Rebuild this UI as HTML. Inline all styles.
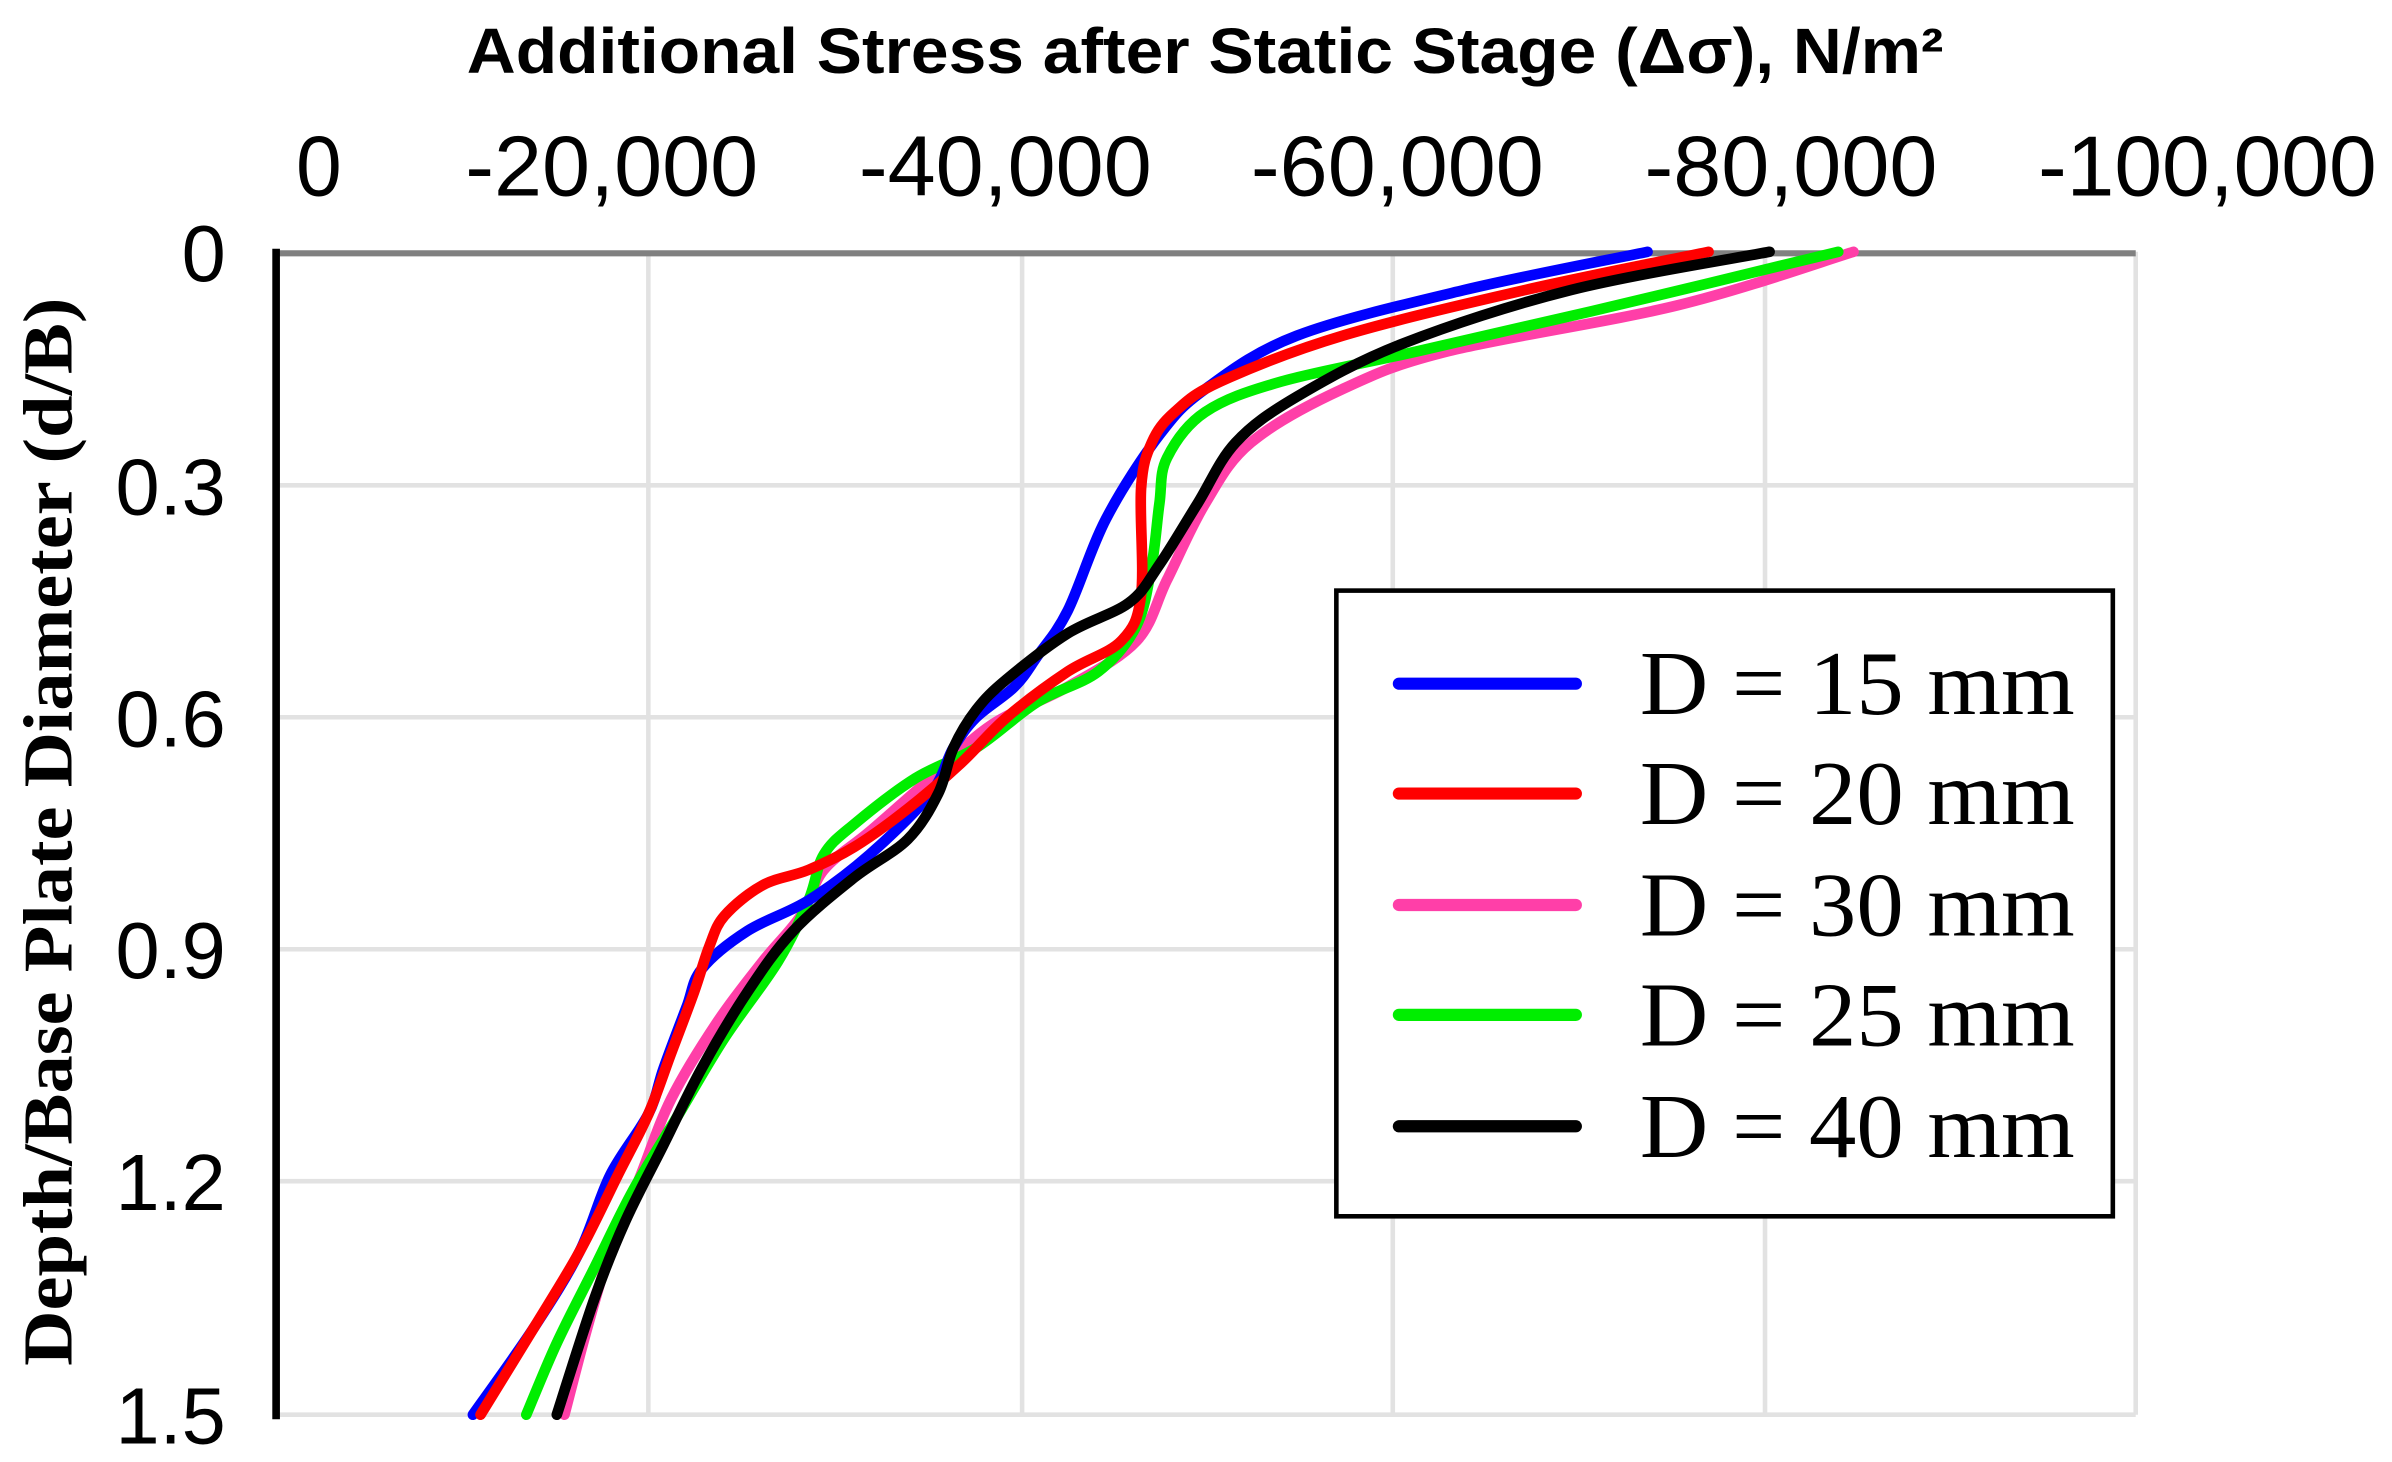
<!DOCTYPE html>
<html><head><meta charset="utf-8"><style>
html,body{margin:0;padding:0;background:#fff;}
svg{display:block;}
</style></head><body>
<svg id="s" width="2392" height="1462" viewBox="0 0 1568 958" preserveAspectRatio="none" xmlns="http://www.w3.org/2000/svg">
<rect width="1568" height="958" fill="#fff"/>
<g stroke="#e2e2e2" stroke-width="3">
<line x1="425" y1="165" x2="425" y2="927"/><line x1="670" y1="165" x2="670" y2="927"/>
<line x1="913" y1="165" x2="913" y2="927"/><line x1="1157" y1="165" x2="1157" y2="927"/>
<line x1="1400" y1="165" x2="1400" y2="927"/>
<line x1="180" y1="318" x2="1400" y2="318"/><line x1="180" y1="470" x2="1400" y2="470"/>
<line x1="180" y1="622" x2="1400" y2="622"/><line x1="180" y1="774" x2="1400" y2="774"/>
<line x1="180" y1="927" x2="1400" y2="927"/>
</g>
<line x1="180" y1="166" x2="1400" y2="166" stroke="#808080" stroke-width="4"/>
<line x1="181" y1="163" x2="181" y2="930" stroke="#000" stroke-width="5"/>
<text x="306" y="48" textLength="968" lengthAdjust="spacingAndGlyphs" font-family="Liberation Sans, sans-serif" font-weight="bold" font-size="42">Additional Stress after Static Stage (Δσ), N/m²</text>
<g font-family="Liberation Sans, sans-serif" font-size="56" lengthAdjust="spacingAndGlyphs">
<text x="194" y="128" textLength="30" lengthAdjust="spacingAndGlyphs">0</text>
<text x="305" y="128" textLength="192" lengthAdjust="spacingAndGlyphs">-20,000</text>
<text x="563" y="128" textLength="192" lengthAdjust="spacingAndGlyphs">-40,000</text>
<text x="820" y="128" textLength="192" lengthAdjust="spacingAndGlyphs">-60,000</text>
<text x="1078" y="128" textLength="192" lengthAdjust="spacingAndGlyphs">-80,000</text>
<text x="1336" y="128" textLength="222" lengthAdjust="spacingAndGlyphs">-100,000</text>
</g>
<g font-family="Liberation Sans, sans-serif" font-size="52" text-anchor="end">
<text x="148" y="184">0</text><text x="148" y="337">0.3</text><text x="148" y="489">0.6</text>
<text x="148" y="641">0.9</text><text x="148" y="793">1.2</text><text x="148" y="946">1.5</text>
</g>
<text transform="translate(47,545) rotate(-90)" text-anchor="middle" textLength="700" lengthAdjust="spacingAndGlyphs" font-family="Liberation Serif, serif" font-weight="bold" font-size="46">Depth/Base Plate Diameter (d/B)</text>
<g id="curves" fill="none" stroke-width="7" stroke-linejoin="round" stroke-linecap="round">
<polyline stroke="#ff3fa8" points="1215,165 1100,200 950,230 880,255 820,290 790,330 765,380 745,420 700,450 650,475 610,510 570,545 540,570 525,600 500,630 470,670 440,720 420,770 400,820 385,870 370,927"/>
<polyline stroke="#00ee00" points="1205,165 1060,200 930,230 840,250 790,270 765,300 760,330 755,370 745,410 720,440 680,460 640,490 600,510 560,540 540,560 530,590 510,630 475,680 445,730 415,780 390,830 365,880 345,927"/>
<polyline stroke="#0000ff" points="1080,165 960,190 850,220 790,255 760,285 725,340 700,400 680,430 665,450 640,470 625,490 610,520 570,560 530,590 490,610 460,635 450,660 435,700 425,730 400,770 380,820 350,870 310,927"/>
<polyline stroke="#ff0000" points="1120,165 1000,190 880,220 800,250 770,270 755,290 748,320 748,390 735,420 700,440 660,470 630,500 595,530 560,555 530,570 500,580 475,600 465,620 455,650 440,690 425,730 405,770 380,820 350,870 315,927"/>
<polyline stroke="#000000" points="1160,165 1030,190 920,225 850,260 810,290 785,330 760,370 740,395 700,415 660,445 640,465 625,490 615,520 595,550 560,575 520,610 490,650 460,700 435,750 410,800 390,850 365,927"/>
</g>
<rect x="876" y="387" width="509" height="410" fill="#fff" stroke="#000" stroke-width="3"/>
<g stroke-width="8" stroke-linecap="round">
<line x1="917" y1="448" x2="1033" y2="448" stroke="#0000ff"/>
<line x1="917" y1="520" x2="1033" y2="520" stroke="#ff0000"/>
<line x1="917" y1="593" x2="1033" y2="593" stroke="#ff3fa8"/>
<line x1="917" y1="665" x2="1033" y2="665" stroke="#00ee00"/>
<line x1="917" y1="738" x2="1033" y2="738" stroke="#000"/>
</g>
<g font-family="Liberation Serif, serif" font-size="60">
<text x="1075" y="468" textLength="285" lengthAdjust="spacingAndGlyphs">D = 15 mm</text>
<text x="1075" y="540" textLength="285" lengthAdjust="spacingAndGlyphs">D = 20 mm</text>
<text x="1075" y="613" textLength="285" lengthAdjust="spacingAndGlyphs">D = 30 mm</text>
<text x="1075" y="685" textLength="285" lengthAdjust="spacingAndGlyphs">D = 25 mm</text>
<text x="1075" y="758" textLength="285" lengthAdjust="spacingAndGlyphs">D = 40 mm</text>
</g>
</svg>
<script>
(function(){
var ns="http://www.w3.org/2000/svg";
var g=document.getElementById("curves");
var pls=Array.prototype.slice.call(g.getElementsByTagName("polyline"));
pls.forEach(function(pl){
var p=pl.getAttribute("points").trim().split(/\s+/).map(function(s){var a=s.split(",");return [+a[0],+a[1]];});
var d="M"+p[0][0]+","+p[0][1];
for(var i=0;i<p.length-1;i++){
var p0=p[i-1]||p[i],p1=p[i],p2=p[i+1],p3=p[i+2]||p2;
var c1=[p1[0]+(p2[0]-p0[0])/6,p1[1]+(p2[1]-p0[1])/6];
var c2=[p2[0]-(p3[0]-p1[0])/6,p2[1]-(p3[1]-p1[1])/6];
d+=" C"+c1[0]+","+c1[1]+" "+c2[0]+","+c2[1]+" "+p2[0]+","+p2[1];
}
var path=document.createElementNS(ns,"path");
path.setAttribute("d",d);path.setAttribute("stroke",pl.getAttribute("stroke"));
g.replaceChild(path,pl);
});
})();
</script>
</body></html>
